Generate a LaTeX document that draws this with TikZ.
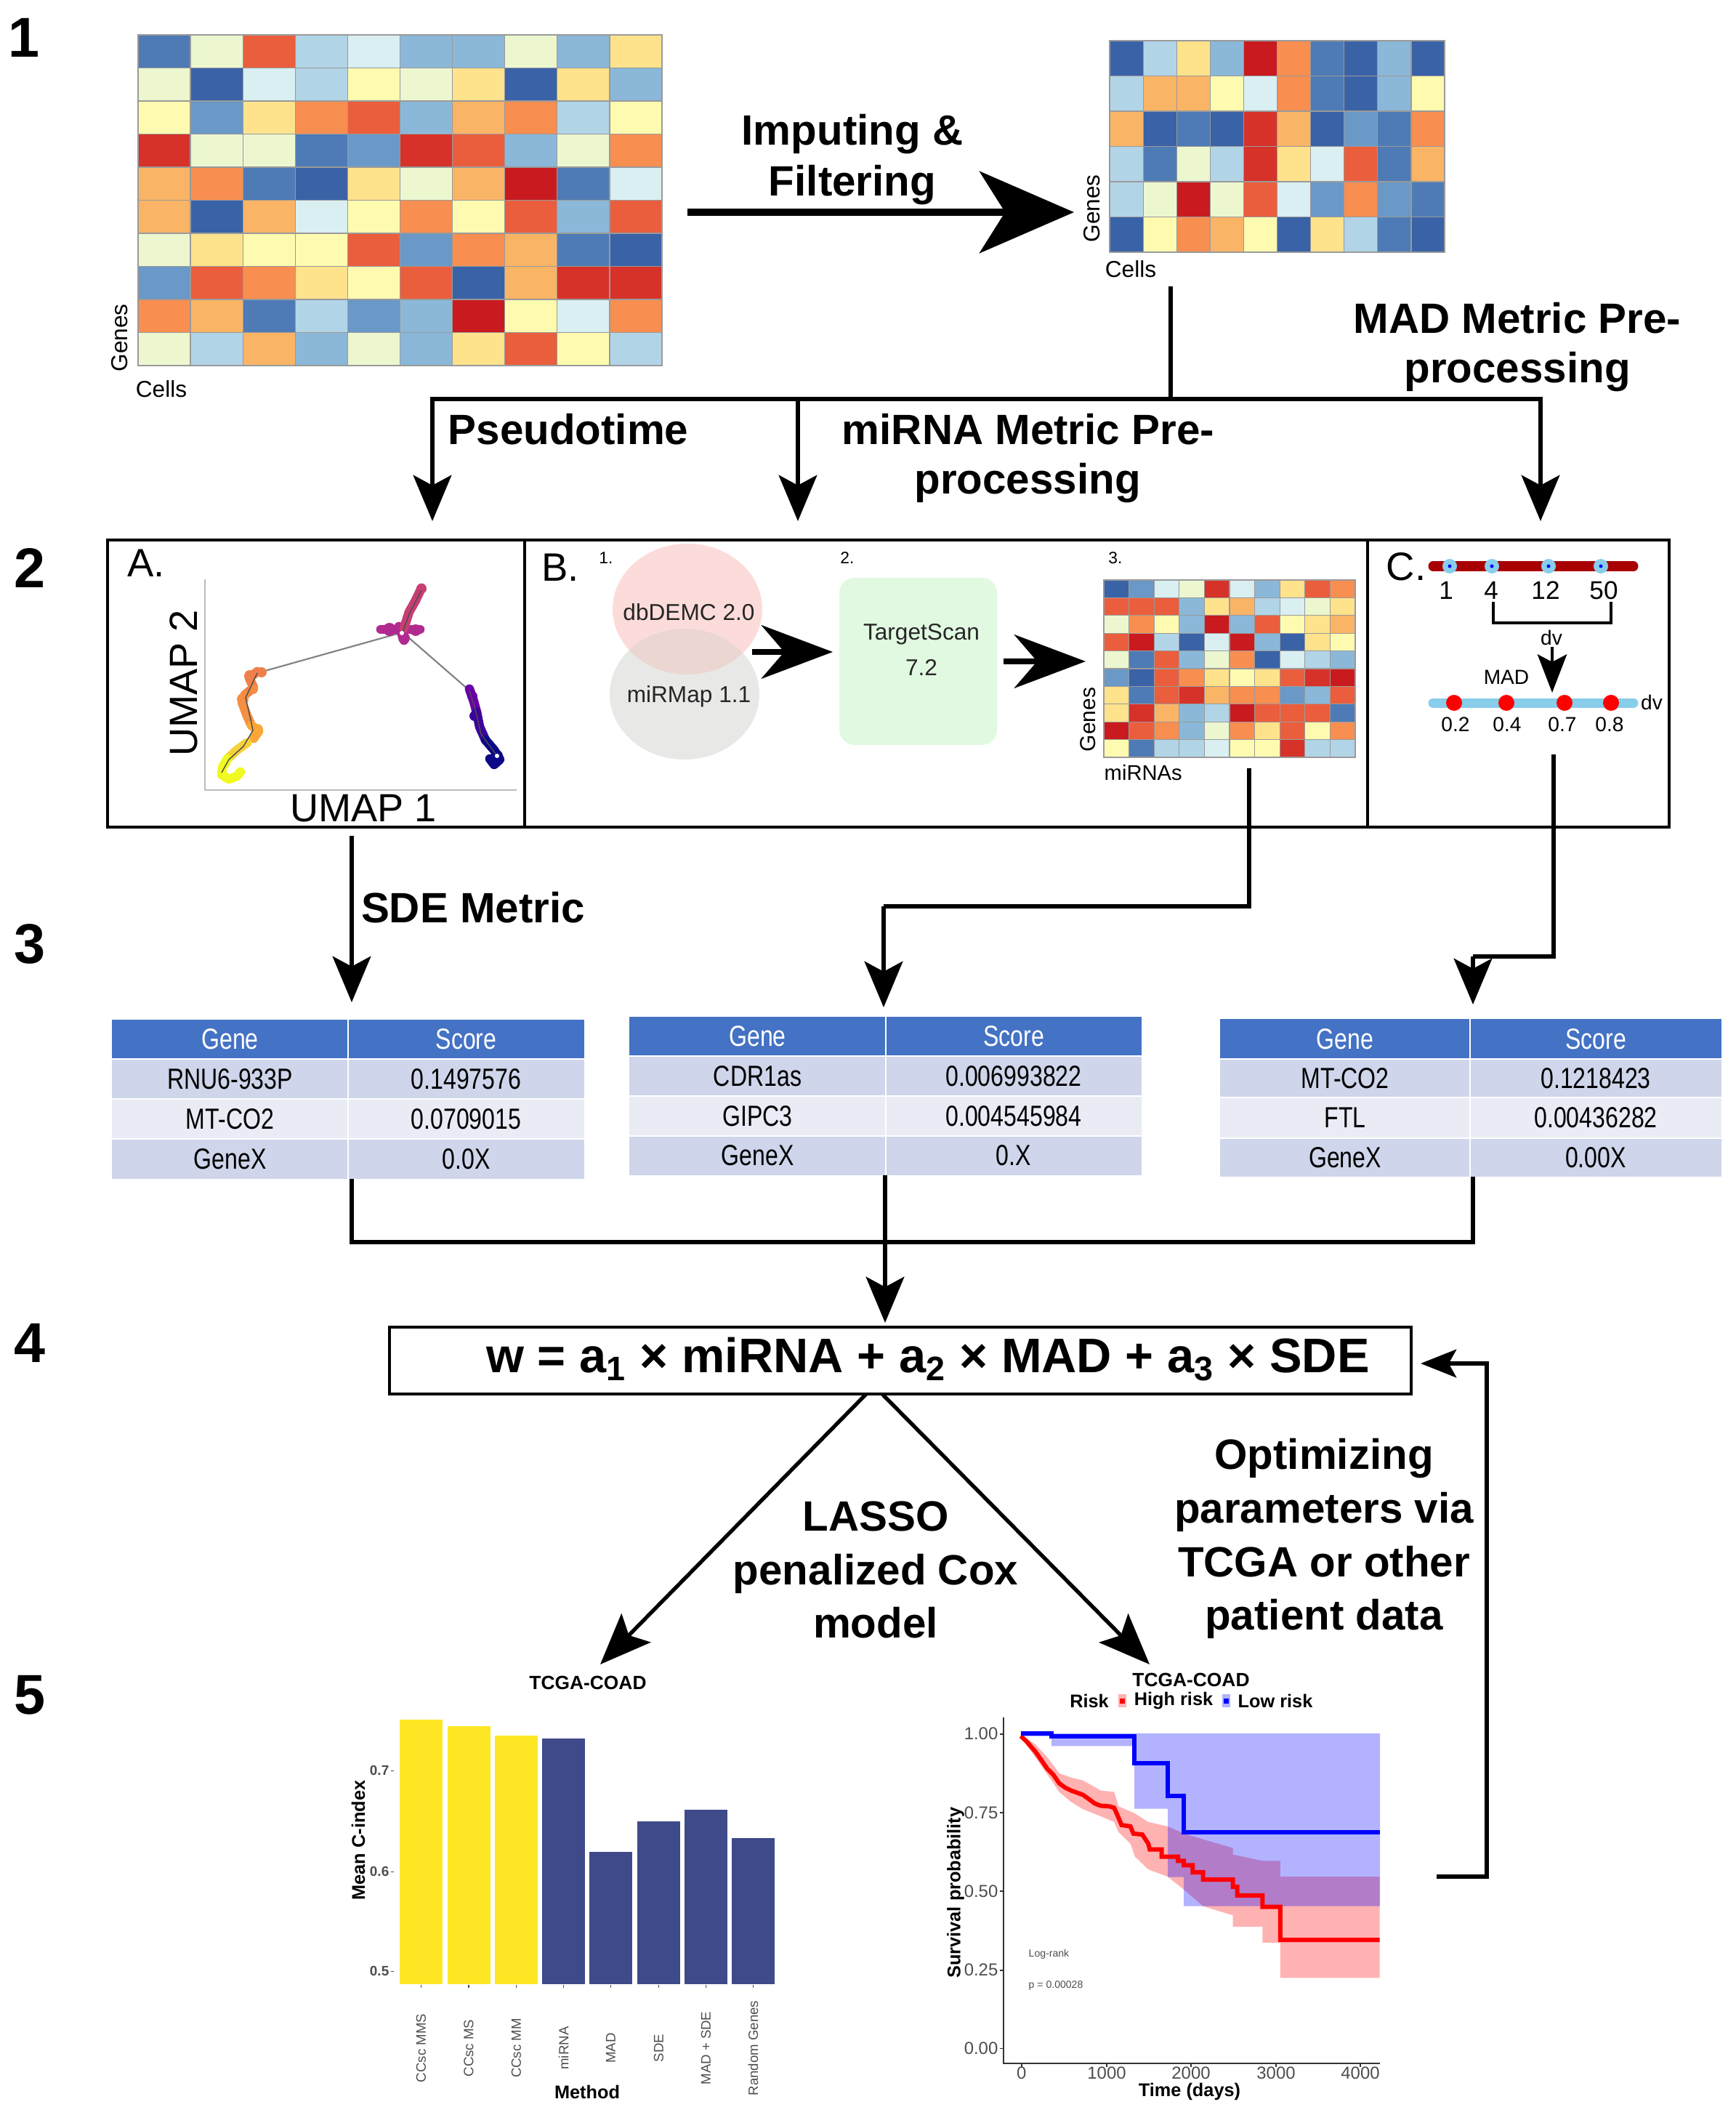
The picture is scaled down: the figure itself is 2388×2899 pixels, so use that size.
\documentclass[tikz,border=0pt]{standalone}
\usepackage{fontspec}
\usepackage{graphicx}
\setmainfont{Liberation Sans}
\usetikzlibrary{arrows.meta}
% heatmap palette
\definecolor{hb1}{HTML}{3A62A7}\definecolor{hb2}{HTML}{4E7BB5}\definecolor{hb3}{HTML}{6A98C7}
\definecolor{hb4}{HTML}{8BB8D8}\definecolor{hb5}{HTML}{B2D4E7}\definecolor{hb6}{HTML}{D9EFF2}
\definecolor{hg0}{HTML}{ECF7D0}\definecolor{hy1}{HTML}{FEFBB0}\definecolor{hy2}{HTML}{FEE28C}
\definecolor{ho1}{HTML}{FAB466}\definecolor{ho2}{HTML}{F88E50}\definecolor{hr1}{HTML}{EB5E3D}
\definecolor{hr2}{HTML}{D6322A}\definecolor{hr3}{HTML}{C91B1F}
\definecolor{cellgrid}{HTML}{9A9A9A}
\definecolor{pinkc}{HTML}{FCDCDA}\definecolor{grayc}{HTML}{E8E9E6}\definecolor{overc}{HTML}{EBD6D2}
\definecolor{tsgreen}{HTML}{E1F8E1}
\definecolor{hdrblue}{HTML}{4472C4}\definecolor{rowdark}{HTML}{CFD5EA}\definecolor{rowlight}{HTML}{E9EBF5}
\definecolor{vyellow}{HTML}{FDE725}\definecolor{vnavy}{HTML}{3E4A89}
\definecolor{axgray}{HTML}{4D4D4D}\definecolor{umapax}{HTML}{BBBBBB}
\definecolor{madred}{HTML}{A80000}\definecolor{madblue}{HTML}{87CEEB}
\definecolor{pl1}{HTML}{F0F921}\definecolor{pl9}{HTML}{F6D13A}\definecolor{pl2}{HTML}{FCA636}
\definecolor{pl3}{HTML}{F0804B}\definecolor{pl4}{HTML}{B12A90}\definecolor{pl5}{HTML}{C73E73}
\definecolor{pl6}{HTML}{6A00A8}\definecolor{pl7}{HTML}{3C049B}\definecolor{pl8}{HTML}{0D0887}
\newcommand\cnd[1]{\scalebox{0.8}[1]{#1}}
\newcommand\hmap[5]{\foreach \rowlist [count=\ri] in {#5}{\foreach \cc [count=\ci] in \rowlist {\path[cell,fill=\cc] ({#1+(\ci-1)*#3},{#2+(\ri-1)*#4}) rectangle ++(#3,#4);}}}
\tikzset{
 lab/.style={font=\fontsize{16.6pt}{21pt}\selectfont\bfseries, align=center, inner sep=0pt},
 rownum/.style={font=\fontsize{22pt}{22pt}\selectfont\bfseries, inner sep=0pt},
 conn/.style={line width=1.5pt},
 darr/.style={conn, -{Stealth[length=18pt,width=15pt,inset=4pt]}},
 small/.style={font=\fontsize{9pt}{9pt}\selectfont, inner sep=0pt},
 tiny/.style={font=\fontsize{8pt}{8pt}\selectfont, inner sep=0pt},
 plab/.style={font=\fontsize{15.5pt}{15.5pt}\selectfont, inner sep=0pt},
 cell/.style={draw=cellgrid, line width=0.35pt},
 panel/.style={line width=1.2pt},
 tabtxt/.style={font=\fontsize{11.4pt}{11.4pt}\selectfont, inner sep=0pt},
 tabhead/.style={tabtxt, text=white},
 blob/.style={line width=3.6pt, line cap=round, line join=round},
 ttl/.style={font=\fontsize{7.5pt}{7.5pt}\selectfont\bfseries, inner sep=0pt},
 axl/.style={font=\fontsize{7.2pt}{7.2pt}\selectfont\bfseries, inner sep=0pt},
}
\begin{document}
\begin{tikzpicture}[x=0.1mm,y=-0.1mm]
\useasboundingbox (0,0) rectangle (2388,2899);
% ---------- row numbers
\node[rownum] (n1) at (33,52) {1};
\node[rownum] (n2) at (41,782) {2};
\node[rownum] (n3) at (41,1299) {3};
\node[rownum] (n4) at (41,1848) {4};
\node[rownum] (n5) at (41,2332) {5};
% ---------- heatmap 1
\hmap{190}{48}{72.1}{45.5}{{hb2,hg0,hr1,hb5,hb6,hb4,hb4,hg0,hb4,hy2},{hg0,hb1,hb6,hb5,hy1,hg0,hy2,hb1,hy2,hb4},{hy1,hb3,hy2,ho2,hr1,hb4,ho1,ho2,hb5,hy1},{hr2,hg0,hg0,hb2,hb3,hr2,hr1,hb4,hg0,ho2},{ho1,ho2,hb2,hb1,hy2,hg0,ho1,hr3,hb2,hb6},{ho1,hb1,ho1,hb6,hy1,ho2,hy1,hr1,hb4,hr1},{hg0,hy2,hy1,hy1,hr1,hb3,ho2,ho1,hb2,hb1},{hb3,hr1,ho2,hy2,hy1,hr1,hb1,ho1,hr2,hr2},{ho2,ho1,hb2,hb5,hb3,hb4,hr3,hy1,hb6,ho2},{hg0,hb5,ho1,hb4,hg0,hb4,hy2,hr1,hy1,hb5}}
\node[small, rotate=90] (g1) at (165,465) {Genes};
\node[small] (c1) at (222,535) {Cells};
% ---------- heatmap 2
\hmap{1527}{56}{46.1}{48.5}{{hb1,hb5,hy2,hb4,hr3,ho2,hb2,hb1,hb4,hb1},{hb5,ho1,ho1,hy1,hb6,ho2,hb2,hb1,hb4,hy1},{ho1,hb1,hb2,hb1,hr2,ho1,hb1,hb3,hb2,ho2},{hb5,hb2,hg0,hb5,hr2,hy2,hb6,hr1,hb2,ho1},{hb5,hg0,hr3,hg0,hr1,hb6,hb3,ho2,hb3,hb2},{hb1,hy1,ho2,ho1,hy1,hb1,hy2,hb5,hb2,hb1}}
\node[small, rotate=90] (g2) at (1503,287) {Genes};
\node[small] (c2) at (1556,370) {Cells};
% ---------- imputing arrow
\coordinate (impA) at (946,292); \coordinate (impB) at (1478,292);
\draw[line width=2.6pt, -{Stealth[length=37pt,width=32pt,inset=10pt]}] (impA) -- (impB);
\node[lab] (imp) at (1173,185) {Imputing \&};
\node[lab] (filt) at (1173,255) {Filtering};
% ---------- branching
\coordinate (hm2b) at (1611,394); \coordinate (jn) at (1611,549);
\coordinate (jl) at (595,549); \coordinate (jm) at (1098,549); \coordinate (jr) at (2120,549);
\coordinate (tA) at (595,717); \coordinate (tB) at (1098,717); \coordinate (tC) at (2120,717);
\draw[conn] (hm2b) -- (jn);
\draw[conn, line cap=rect] (jl) -- (jr);
\draw[darr] (jl) -- (tA);
\draw[darr] (jm) -- (tB);
\draw[darr] (jr) -- (tC);
\node[lab] (pt) at (782,591) {Pseudotime};
\node[lab] (mi1) at (1415,591) {miRNA Metric Pre-};
\node[lab] (mi2) at (1414,665) {processing};
\node[lab] (md1) at (2088,438) {MAD Metric Pre-};
\node[lab] (md2) at (2088,512) {processing};
% ---------- panels
\draw[panel] (148,743) rectangle (2297,1138);
\draw[panel] (722,743) -- (722,1138);
\draw[panel] (1882,743) -- (1882,1138);
% ---------- panel A
\node[plab] (pA) at (201,775) {A.};
\draw[umapax, line width=0.6pt] (282,797) -- (282,1087) -- (711,1087);
\node[font=\fontsize{15.4pt}{15.4pt}\selectfont, rotate=90, inner sep=0pt] (u2) at (253,940) {UMAP 2};
\node[font=\fontsize{15.4pt}{15.4pt}\selectfont, inner sep=0pt] (u1) at (500,1112) {UMAP 1};
\draw[gray, line width=0.6pt] (354,926) -- (554,870) -- (646,950);
% orange / yellow branch
\draw[blob, pl3] (354,924) -- (343,933) -- (349,946) -- (337,956);
\draw[blob, pl3!60!pl2] (337,956) -- (333,966) -- (340,985) -- (346,998);
\draw[blob, pl2] (346,998) -- (356,1006) -- (349,1016);
\draw[blob, pl9] (340,1022) -- (326,1032) -- (313,1044);
\draw[blob, pl1] (313,1044) -- (306,1056) -- (305,1066) -- (315,1072) -- (326,1068) -- (331,1062);
\fill[pl3] (344,930) circle (8); \fill[pl3] (360,925) circle (7); \fill[pl3!70!pl2] (348,948) circle (7);
\fill[pl3!60!pl2] (334,962) circle (8); \fill[pl2] (354,1004) circle (8); \fill[pl1] (310,1050) circle (7);
\draw[black!70, line width=0.4pt] (354,926) -- (345,945) -- (338,960) -- (345,990) -- (348,1005) -- (335,1027) -- (315,1045) -- (305,1063);
% magenta cluster
\draw[blob, pl4] (524,866) -- (578,866);
\draw[blob, pl4] (549,862) -- (556,881);
\fill[pl4] (536,866) circle (9); \fill[pl4] (572,867) circle (8); \fill[pl4] (556,878) circle (8);
\draw[blob, pl5] (556,864) -- (563,842) -- (572,826) -- (580,809);
\fill[pl5] (580,810) circle (7);
\draw[black!70, line width=0.4pt] (554,870) -- (563,845) -- (580,812);
\fill[white] (553,871) circle (3);
% purple branch
\draw[blob, pl6] (646,948) -- (652,965) -- (656,980);
\draw[blob, pl7] (656,980) -- (660,1000) -- (668,1018);
\draw[blob, pl8] (668,1018) -- (680,1032) -- (688,1045) -- (680,1052) -- (674,1044);
\fill[pl6] (650,958) circle (7); \fill[pl7] (653,985) circle (7); \fill[pl8] (684,1040) circle (8);
\draw[black!70, line width=0.4pt] (646,950) -- (655,980) -- (662,1010) -- (684,1040);
\fill[white] (684,1040) circle (3);
% ---------- panel B
\node[plab] (pB) at (771,781) {B.};
\node[font=\fontsize{6.5pt}{6.5pt}\selectfont, inner sep=0pt] (s1) at (834,768) {1.};
\node[font=\fontsize{6.5pt}{6.5pt}\selectfont, inner sep=0pt] (s2) at (1166,768) {2.};
\node[font=\fontsize{6.5pt}{6.5pt}\selectfont, inner sep=0pt] (s3) at (1535,768) {3.};
\fill[pinkc] (946,838) ellipse (103 and 90);
\fill[grayc] (942,955) ellipse (103 and 90);
\begin{scope}
\clip (946,838) ellipse (103 and 90);
\fill[overc] (942,955) ellipse (103 and 90);
\end{scope}
\node[small, text=black!85] (db) at (948,842) {dbDEMC 2.0};
\node[small, text=black!85] (mr) at (948,958) {miRMap 1.1};
\node[fill=tsgreen, rounded corners=6pt, minimum width=217*0.1mm, minimum height=230*0.1mm, inner sep=0pt] (ts) at (1263.5,910) {};
\node[small, align=center, text=black!85] (tst) at (1268,894) {TargetScan\\[5pt]7.2};
\coordinate (ba1) at (1035,897); \coordinate (bb1) at (1146,897);
\coordinate (ba2) at (1381,910); \coordinate (bb2) at (1494,910);
\draw[line width=2pt, -{Stealth[length=28pt,width=21pt,inset=9pt]}] (ba1) -- (bb1);
\draw[line width=2pt, -{Stealth[length=28pt,width=21pt,inset=9pt]}] (ba2) -- (bb2);
\hmap{1519}{798}{34.6}{24.4}{{hb1,hb3,hb6,hg0,hr2,hb6,hb4,hy2,hr1,ho2},{hr1,hr1,hr1,hb4,hy2,ho1,hb5,hb6,hg0,hy2},{hg0,ho2,hy1,hb4,hr3,hb4,hr1,hy1,hy2,ho1},{hr1,hr3,hb5,hb1,hb6,hr3,hb4,hb1,hy2,hy1},{hg0,hb2,hr1,hb4,hg0,ho2,hb1,hb6,hb5,hb4},{hb3,hb1,hr1,ho2,hy2,hy1,hy2,hr1,hr2,hr3},{hy2,hb2,hr1,hr2,ho1,ho2,ho2,hb3,hb4,hr1},{hy2,hr2,ho1,hb4,hb5,hr3,hr1,hr1,hr1,hb2},{hr3,hr1,ho2,hb4,hg0,ho2,hy2,hr1,hy1,ho2},{hy1,hb2,hb5,hb5,hb6,hy1,hy1,hr2,hb5,hb5}}
\node[font=\fontsize{8.5pt}{8.5pt}\selectfont, rotate=90, inner sep=0pt] (g3) at (1497,990) {Genes};
\node[font=\fontsize{8.3pt}{8.3pt}\selectfont, anchor=west, inner sep=0pt] (mis) at (1519,1063) {miRNAs};
% ---------- panel C
\node[plab] (pC) at (1935,780) {C.};
\draw[madred, line width=3.7pt, line cap=round] (1972,779) -- (2248,779);
\foreach \xx in {1995,2053,2131,2203}{\fill[madblue] (\xx,779) circle (10); \fill[blue] (\xx,779) circle (2.5);}
\node[font=\fontsize{10pt}{10pt}\selectfont, inner sep=0pt] (v1) at (1990,812) {1};
\node[font=\fontsize{10pt}{10pt}\selectfont, inner sep=0pt] (v4) at (2052,812) {4};
\node[font=\fontsize{10pt}{10pt}\selectfont, inner sep=0pt] (v12) at (2127,812) {12};
\node[font=\fontsize{10pt}{10pt}\selectfont, inner sep=0pt] (v50) at (2207,812) {50};
\draw[line width=1.2pt] (2055,828) -- (2055,857) -- (2217,857) -- (2217,828);
\node[tiny] (dv1) at (2135,877) {dv};
\coordinate (ca) at (2136,890); \coordinate (cb) at (2136,953);
\draw[line width=1pt, -{Stealth[length=15pt,width=11.5pt,inset=3pt]}] (ca) -- (cb);
\node[tiny] (madl) at (2073,932) {MAD};
\draw[madblue, line width=3.7pt, line cap=round] (1972,967) -- (2248,967);
\foreach \xx in {2001,2073,2153,2217}{\fill[red] (\xx,967) circle (11);}
\node[tiny] (dv2) at (2273,966) {dv};
\node[tiny] (w1) at (2003,997) {0.2};
\node[tiny] (w2) at (2074,997) {0.4};
\node[tiny] (w3) at (2150,997) {0.7};
\node[tiny] (w4) at (2215,997) {0.8};
% ---------- connectors to tables
\coordinate (aS) at (484,1150); \coordinate (aT) at (484,1379);
\draw[darr] (aS) -- (aT);
\node[lab] (sde) at (651,1249) {SDE Metric};
\coordinate (bS) at (1719,1057); \coordinate (b1) at (1719,1247); \coordinate (b2) at (1216,1247); \coordinate (bT) at (1216,1386);
\draw[conn] (bS) -- (b1) -- (b2);
\draw[darr] (b2) -- (bT);
\coordinate (cS) at (2138,1038); \coordinate (c1c) at (2138,1316); \coordinate (c2c) at (2027,1316); \coordinate (cT) at (2027,1382);
\draw[conn] (cS) -- (c1c) -- (c2c);
\draw[darr] (c2c) -- (cT);
% ---------- tables
% table 1
\fill[hdrblue] (154,1403) rectangle (804,1457);
\fill[rowdark] (154,1457) rectangle (804,1512);
\fill[rowlight] (154,1512) rectangle (804,1567);
\fill[rowdark] (154,1567) rectangle (804,1622);
\draw[white, line width=0.6pt] (479,1403) -- (479,1622) (154,1457) -- (804,1457) (154,1512) -- (804,1512) (154,1567) -- (804,1567);
\node[tabhead] (t1h1) at (316.5,1430) {\cnd{Gene}};
\node[tabhead] (t1h2) at (641.5,1430) {\cnd{Score}};
\node[tabtxt] (t1a) at (316.5,1485) {\cnd{RNU6-933P}};
\node[tabtxt] (t1b) at (641.5,1485) {\cnd{0.1497576}};
\node[tabtxt] (t1c) at (316.5,1540) {\cnd{MT-CO2}};
\node[tabtxt] (t1d) at (641.5,1540) {\cnd{0.0709015}};
\node[tabtxt] (t1e) at (316.5,1595) {\cnd{GeneX}};
\node[tabtxt] (t1f) at (641.5,1595) {\cnd{0.0X}};
% table 2
\fill[hdrblue] (866,1399) rectangle (1571,1453);
\fill[rowdark] (866,1453) rectangle (1571,1508);
\fill[rowlight] (866,1508) rectangle (1571,1563);
\fill[rowdark] (866,1563) rectangle (1571,1617);
\draw[white, line width=0.6pt] (1219,1399) -- (1219,1617) (866,1453) -- (1571,1453) (866,1508) -- (1571,1508) (866,1563) -- (1571,1563);
\node[tabhead] (t2h1) at (1042.5,1426) {\cnd{Gene}};
\node[tabhead] (t2h2) at (1395,1426) {\cnd{Score}};
\node[tabtxt] (t2a) at (1042.5,1481) {\cnd{CDR1as}};
\node[tabtxt] (t2b) at (1395,1481) {\cnd{0.006993822}};
\node[tabtxt] (t2c) at (1042.5,1536) {\cnd{GIPC3}};
\node[tabtxt] (t2d) at (1395,1536) {\cnd{0.004545984}};
\node[tabtxt] (t2e) at (1042.5,1590) {\cnd{GeneX}};
\node[tabtxt] (t2f) at (1395,1590) {\cnd{0.X}};
% table 3
\fill[hdrblue] (1679,1402) rectangle (2369,1457);
\fill[rowdark] (1679,1457) rectangle (2369,1510);
\fill[rowlight] (1679,1510) rectangle (2369,1566);
\fill[rowdark] (1679,1566) rectangle (2369,1619);
\draw[white, line width=0.6pt] (2023,1402) -- (2023,1619) (1679,1457) -- (2369,1457) (1679,1510) -- (2369,1510) (1679,1566) -- (2369,1566);
\node[tabhead] (t3h1) at (1851,1430) {\cnd{Gene}};
\node[tabhead] (t3h2) at (2196,1430) {\cnd{Score}};
\node[tabtxt] (t3a) at (1851,1484) {\cnd{MT-CO2}};
\node[tabtxt] (t3b) at (2196,1484) {\cnd{0.1218423}};
\node[tabtxt] (t3c) at (1851,1538) {\cnd{FTL}};
\node[tabtxt] (t3d) at (2196,1538) {\cnd{0.00436282}};
\node[tabtxt] (t3e) at (1851,1593) {\cnd{GeneX}};
\node[tabtxt] (t3f) at (2196,1593) {\cnd{0.00X}};
% ---------- merge to formula
\coordinate (m1) at (484,1622); \coordinate (m1b) at (484,1709);
\coordinate (m3) at (2027,1619); \coordinate (m3b) at (2027,1709);
\coordinate (m2) at (1218,1617); \coordinate (m2b) at (1218,1709);
\draw[conn] (m1) -- (m1b) -- (m3b) -- (m3);
\draw[darr] (m2) -- (1218,1820);
% ---------- formula box
\node[draw, line width=1.1pt, minimum width=1406*0.1mm, minimum height=92*0.1mm, inner sep=0pt] (box) at (1239,1872) {};
\node[font=\fontsize{19pt}{19pt}\selectfont\bfseries, inner sep=0pt] (eq) at (1277,1870) {w = a\textsubscript{1} × miRNA + a\textsubscript{2} × MAD + a\textsubscript{3} × SDE};
% ---------- LASSO arrows
\coordinate (l1) at (1192,1918); \coordinate (l1t) at (826,2290);
\coordinate (l2) at (1214,1918); \coordinate (l2t) at (1582,2290);
\draw[conn, -{Stealth[length=20pt,width=16pt,inset=4pt]}] (l1) -- (l1t);
\draw[conn, -{Stealth[length=20pt,width=16pt,inset=4pt]}] (l2) -- (l2t);
\node[lab] (lasso) at (1205,2160) {LASSO\\penalized Cox\\model};
\node[lab] (opt) at (1822,2117) {Optimizing\\parameters via\\TCGA or other\\patient data};
% feedback
\coordinate (f0) at (1977,2582); \coordinate (f1) at (2046,2582); \coordinate (f2) at (2046,1876); \coordinate (f3) at (1955,1876);
\draw[conn, -{Stealth[length=14pt,width=11pt,inset=3pt]}] (f0) -- (f1) -- (f2) -- (f3);
% ---------- bar chart
\node[ttl] (bt) at (809,2315) {TCGA-COAD};
\foreach \xa/\tp/\col in {550/2366/vyellow, 615.5/2375/vyellow, 681/2388/vyellow, 746/2392/vnavy, 811/2548/vnavy, 877/2506/vnavy, 942/2490/vnavy, 1007/2529/vnavy}
 {\fill[\col] (\xa,\tp) rectangle ++(59,{2730-\tp});}
\foreach \yy/\tl in {2712/0.5, 2575/0.6, 2436/0.7}
 {\node[font=\fontsize{5.4pt}{5.4pt}\selectfont\bfseries, text=axgray, anchor=east, inner sep=0pt] at (536,\yy) {\tl};
  \draw[axgray, line width=0.3pt] (538,\yy) -- (542,\yy);}
\foreach \xc/\lb in {579.5/CCsc MMS, 645/CCsc MS, 710.5/CCsc MM, 775.5/miRNA, 840.5/MAD, 906.5/SDE, 971.5/MAD + SDE, 1036.5/Random Genes}
 {\draw[axgray, line width=0.3pt] (\xc,2731) -- (\xc,2735);
  \node[font=\fontsize{5.3pt}{5.3pt}\selectfont, text=axgray, rotate=90, inner sep=0pt] at (\xc,2818) {\lb};}
\node[axl, rotate=90] (yl) at (493,2532) {Mean C-index};
\node[axl] (xl) at (808,2878) {Method};
% ---------- survival plot
\node[ttl] (st) at (1639,2311) {TCGA-COAD};
\node[axl] (rk) at (1499,2340) {Risk};
\fill[red!30] (1539,2331) rectangle (1550,2349); \fill[red] (1541,2337) rectangle (1548,2344);
\node[axl] (hr) at (1615,2340) {High risk};
\fill[blue!30] (1682,2331) rectangle (1693,2349); \fill[blue] (1684,2337) rectangle (1691,2344);
\node[axl] (lr) at (1755,2340) {Low risk};
\fill[red, fill opacity=0.3] (1404.7,2385.7) -- (1425,2400.3) -- (1441.4,2418) -- (1457.7,2439.8) -- (1474,2445.7) -- (1490.3,2449.7) -- (1514.8,2463.6) -- (1533.2,2465.5) -- (1539.3,2485.3) -- (1561.8,2495.1) -- (1580.2,2506.9) -- (1606.7,2512.8) -- (1629.2,2522.7) -- (1655.7,2530.7) -- (1696.5,2542.5) -- (1696.5,2551.6) -- (1737.3,2560.3) -- (1761.8,2560.3) -- (1761.8,2582) -- (1898.6,2582) -- (1898.6,2721.4) -- (1761.8,2721.4) -- (1761.8,2672.9) -- (1737.3,2672.9) -- (1737.3,2651.2) -- (1696.5,2651.2) -- (1696.5,2635.3) -- (1655.7,2622.7) -- (1629.2,2599.8) -- (1606.7,2582) -- (1580.2,2572.1) -- (1561.8,2554.4) -- (1555.6,2536.6) -- (1539.3,2520.8) -- (1533.2,2506.9) -- (1514.8,2499) -- (1490.3,2489.2) -- (1474,2479.3) -- (1457.7,2465.5) -- (1441.4,2441.7) -- (1425,2418) -- (1404.7,2390.4) -- cycle;
\fill[blue, fill opacity=0.3] (1405,2384.9) -- (1899,2384.9) -- (1899,2622.7) -- (1629,2622.7) -- (1629,2582.5) -- (1607,2582.5) -- (1607,2488.6) -- (1561,2488.6) -- (1561,2402.4) -- (1447,2402.4) -- (1447,2388.8) -- (1405,2388.8) -- cycle;
\draw[red, line width=1.7pt] (1404.7,2388.5) -- (1412.9,2396.3) -- (1425,2410.2) -- (1433.2,2422) -- (1441.4,2433.9) -- (1449.5,2441.8) -- (1457.7,2453.7) -- (1465.9,2459.6) -- (1474,2463.6) -- (1490.3,2469.5) -- (1498.5,2475.4) -- (1506.6,2481.4) -- (1514.8,2484.5) -- (1527,2485.4) -- (1533.2,2487.3) -- (1539.3,2501.1) -- (1543.4,2511) -- (1555.6,2512.9) -- (1559.7,2522.8) -- (1572,2524.1) -- (1580.2,2536.7) -- (1582.2,2544.6) -- (1598.6,2544.6) -- (1598.6,2554.5) -- (1621,2554.5) -- (1621,2560.4) -- (1629.2,2560.4) -- (1629.2,2566.3) -- (1641.4,2566.3) -- (1641.4,2576.2) -- (1655.7,2576.2) -- (1655.7,2586.1) -- (1696.5,2586.1) -- (1696.5,2596) -- (1702.7,2596) -- (1702.7,2607.8) -- (1737.3,2607.8) -- (1737.3,2623.6) -- (1761.8,2623.6) -- (1761.8,2669) -- (1898.6,2669);
\draw[blue, line width=1.7pt] (1404.7,2384.9) -- (1446.7,2384.9) -- (1446.7,2388.8) -- (1561,2388.8) -- (1561,2425.6) -- (1606.7,2425.6) -- (1606.7,2471.1) -- (1629,2471.1) -- (1629,2520.5) -- (1898.6,2520.5);
\draw[black!80, line width=0.8pt] (1381,2362.6) -- (1381,2839) -- (1899,2839);
\foreach \yy/\tl in {2385.7/1.00, 2494/0.75, 2602.3/0.50, 2710.6/0.25, 2818.5/0.00}
 {\draw[black!80, line width=0.5pt] (1376,\yy) -- (1381,\yy);
  \node[font=\fontsize{6.8pt}{6.8pt}\selectfont, text=axgray, anchor=east, inner sep=0pt] at (1374,\yy) {\tl};}
\foreach \xx/\tl in {1405.7/0, 1523/1000, 1639/2000, 1756/3000, 1872/4000}
 {\draw[black!80, line width=0.5pt] (\xx,2839) -- (\xx,2844);
  \node[font=\fontsize{6.8pt}{6.8pt}\selectfont, text=axgray, inner sep=0pt] at (\xx,2852) {\tl};}
\node[axl, rotate=90] (sy) at (1315,2604) {Survival probability};
\node[axl] (sx) at (1637,2878) {Time (days)};
\node[font=\fontsize{4pt}{4pt}\selectfont, text=axgray, anchor=west, inner sep=0pt] (lg) at (1415,2689) {Log-rank};
\node[font=\fontsize{4pt}{4pt}\selectfont, text=axgray, anchor=west, inner sep=0pt] (pv) at (1415,2732) {p = 0.00028};
\end{tikzpicture}
\end{document}
